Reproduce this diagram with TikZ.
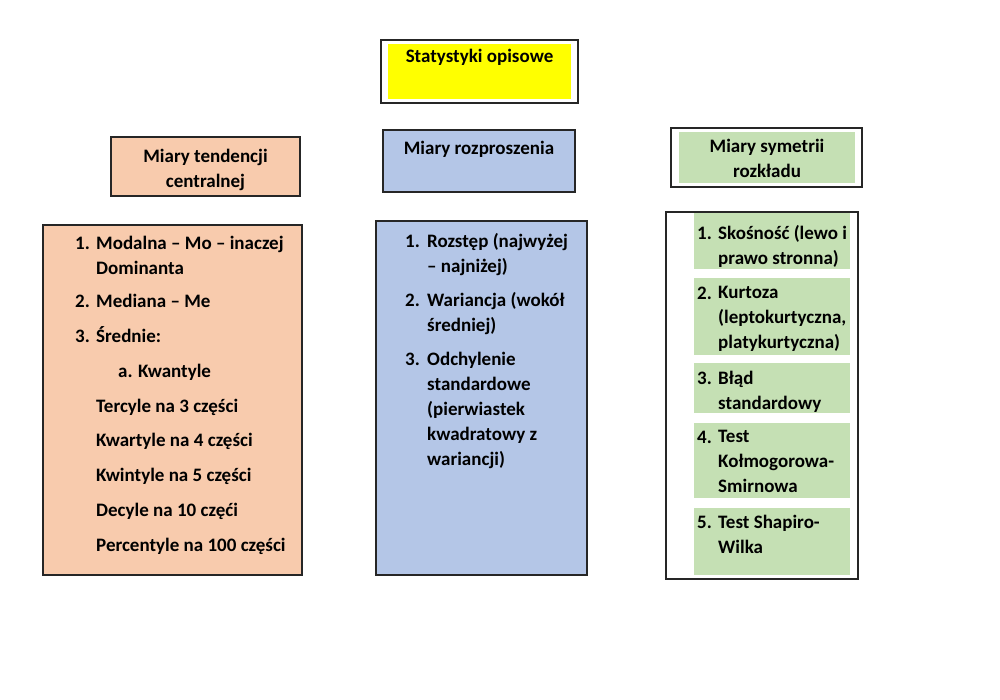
\documentclass[tikz,border=0pt]{standalone}
\usepackage{fontspec}
\setmainfont{Carlito}
\definecolor{peach}{HTML}{F8CBAD}
\definecolor{lblue}{HTML}{B4C6E7}
\definecolor{lgreen}{HTML}{C5E0B4}
\definecolor{yel}{HTML}{FFFF00}
\tikzset{
  box/.style={draw=black!85, line width=1.2pt, inner sep=0pt},
  fillbox/.style={inner sep=0pt, draw=none},
  txt/.style={anchor=north west, inner sep=0pt, align=left, font=\fontsize{19}{25}\selectfont\bfseries, execute at begin node=\strut, yshift=17pt},
  ctxt/.style={anchor=north, inner sep=0pt, align=center, font=\fontsize{19}{25}\selectfont\bfseries, execute at begin node=\strut, yshift=17pt},
  ml/.style={yshift=-4.5pt},
  numml/.style={yshift=-1.2pt},
}
\begin{document}
\begin{tikzpicture}[x=1pt,y=-1pt]
\useasboundingbox (0,0) rectangle (1000,700);
% top box
\node[box, fill=white, minimum width=197pt, minimum height=63pt] (topo) at (479.5,71.5) {};
\node[fillbox, fill=yel, minimum width=183pt, minimum height=55pt] (topi) at (479.5,71.5) {};
\node[ctxt] (toptxt) at (479.5,62) {Statystyki opisowe};
% headers
\node[box, fill=peach, minimum width=189pt, minimum height=59pt] (h1) at (205.5,166.5) {};
\node[ctxt, ml] (h1t) at (205.5,161) {Miary tendencji\\centralnej};
\node[box, fill=lblue, minimum width=192pt, minimum height=62pt] (h2) at (479,161) {};
\node[ctxt] (h2t) at (479,154) {Miary rozproszenia};
\node[box, fill=white, minimum width=191pt, minimum height=59pt] (h3o) at (766.5,157.5) {};
\node[fillbox, fill=lgreen, minimum width=176pt, minimum height=51pt] (h3i) at (767,157.5) {};
\node[ctxt, ml] (h3t) at (767,151) {Miary symetrii\\rozkładu};
% big boxes
\node[box, fill=peach, minimum width=259pt, minimum height=350pt] (b1) at (172.5,400) {};
\node[box, fill=lblue, minimum width=211pt, minimum height=354pt] (b2) at (481.5,398) {};
\node[box, fill=white, minimum width=192pt, minimum height=367pt] (b3) at (762,395.5) {};
% green inner boxes
\node[fillbox, fill=lgreen, minimum width=156pt, minimum height=56pt] (g1) at (772,241) {};
\node[fillbox, fill=lgreen, minimum width=156pt, minimum height=77pt] (g2) at (772,316.5) {};
\node[fillbox, fill=lgreen, minimum width=156pt, minimum height=50pt] (g3) at (772,388) {};
\node[fillbox, fill=lgreen, minimum width=156pt, minimum height=75pt] (g4) at (772,460.5) {};
\node[fillbox, fill=lgreen, minimum width=156pt, minimum height=67pt] (g5) at (772,541.5) {};
% left list
\node[txt, numml] (l1n) at (75,248) {1.};
\node[txt, ml] (l1t) at (96,248) {Modalna – Mo – inaczej\\Dominanta};
\node[txt] (l2n) at (75,307) {2.};
\node[txt] (l2t) at (96,307) {Mediana – Me};
\node[txt] (l3n) at (75,342) {3.};
\node[txt] (l3t) at (96,342) {Średnie:};
\node[txt] (lan) at (118,377) {a.};
\node[txt] (lat) at (138,377) {Kwantyle};
\node[txt] (l4) at (96,412) {Tercyle na 3 części};
\node[txt] (l5) at (96,446) {Kwartyle na 4 części};
\node[txt] (l6) at (96,481) {Kwintyle na 5 części};
\node[txt] (l7) at (96,516) {Decyle na 10 częći};
\node[txt] (l8) at (96,551) {Percentyle na 100 części};
% middle list
\node[txt, numml] (m1n) at (405,246) {1.};
\node[txt, ml] (m1t) at (427,246) {Rozstęp (najwyżej\\– najniżej)};
\node[txt, numml] (m2n) at (405,305) {2.};
\node[txt, ml] (m2t) at (427,305) {Wariancja (wokół\\średniej)};
\node[txt, numml] (m3n) at (405,364) {3.};
\node[txt, ml] (m3t) at (427,364) {Odchylenie\\standardowe\\(pierwiastek\\kwadratowy z\\wariancji)};
% right list
\node[txt, numml] (r1n) at (697,238) {1.};
\node[txt, ml] (r1t) at (718,238) {Skośność (lewo i\\prawo stronna)};
\node[txt, numml] (r2n) at (697,298) {2.};
\node[txt, ml] (r2t) at (718,298) {Kurtoza\\(leptokurtyczna,\\platykurtyczna)};
\node[txt, numml] (r3n) at (697,383) {3.};
\node[txt, ml] (r3t) at (718,383) {Błąd\\standardowy};
\node[txt, numml] (r4n) at (697,442) {4.};
\node[txt, ml] (r4t) at (718,442) {Test\\Kołmogorowa-\\Smirnowa};
\node[txt, numml] (r5n) at (697,527) {5.};
\node[txt, ml] (r5t) at (718,527) {Test Shapiro-\\Wilka};
\end{tikzpicture}
\end{document}
